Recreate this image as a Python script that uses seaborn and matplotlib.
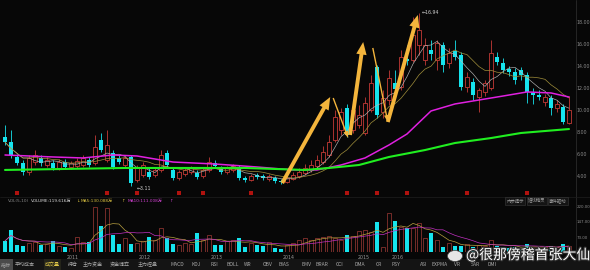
import numpy as np
import pandas as pd
import matplotlib
matplotlib.use("Agg")
import matplotlib.pyplot as plt
import seaborn as sns
from matplotlib import patheffects as pe
from matplotlib.patches import Rectangle, Ellipse
from matplotlib.lines import Line2D
from matplotlib.transforms import blended_transform_factory

# ---------------- data ----------------
opens = [7.55, 7.09, 5.73, 5.18, 4.36, 5.27, 5.64, 5.00, 5.18, 4.73,
         5.27, 4.82, 4.91, 5.00, 5.45, 5.18, 7.27, 5.45, 6.09, 5.64,
         5.00, 5.73, 3.64, 4.09, 4.36, 4.09, 4.55, 6.09, 4.55, 3.82,
         4.18, 4.36, 4.27, 4.00, 4.55, 5.18, 4.73, 4.36, 4.55, 4.73,
         3.82, 3.64, 4.09, 4.00, 3.73, 3.82, 3.55, 3.45, 3.73, 4.00,
         4.27, 4.55, 4.91, 5.27, 5.91, 7.27, 8.18, 10.18, 8.18, 8.64,
         7.91, 10.00, 13.91, 9.82, 10.91, 12.45, 12.09, 14.64, 14.55, 15.91,
         14.55, 15.45, 14.55, 15.91, 14.27, 15.36, 15.00, 12.09, 12.55, 11.18,
         11.64, 12.00, 14.82, 14.27, 13.73, 13.45, 13.64, 13.18, 11.55, 11.36,
         10.73, 11.09, 10.18, 10.27, 8.82]
closes = [7.09, 5.91, 5.18, 4.36, 5.64, 5.91, 5.18, 5.45, 4.73, 5.27,
          4.82, 5.18, 5.36, 5.64, 5.00, 6.64, 6.36, 6.82, 4.82, 5.27,
          5.64, 3.36, 4.73, 5.00, 3.91, 4.55, 5.91, 5.00, 3.82, 4.36,
          4.55, 4.73, 3.91, 4.55, 5.27, 4.91, 4.36, 4.73, 4.91, 3.82,
          3.64, 4.00, 3.91, 3.82, 4.00, 3.55, 3.45, 3.82, 4.09, 4.36,
          4.73, 5.00, 5.45, 6.18, 7.09, 9.36, 9.82, 7.73, 10.00, 9.55,
          10.64, 12.45, 9.55, 11.09, 12.91, 11.91, 14.82, 14.45, 16.82, 17.27,
          15.91, 15.09, 16.09, 14.09, 15.18, 14.82, 12.09, 13.00, 11.36, 11.82,
          12.45, 15.18, 14.36, 13.64, 13.45, 12.73, 13.18, 11.64, 11.36, 11.18,
          11.18, 10.18, 10.55, 8.91, 10.00]
highs = [8.64, 8.18, 6.00, 5.45, 5.91, 6.36, 5.91, 5.73, 5.45, 5.55,
         5.55, 5.36, 5.64, 5.91, 5.73, 7.73, 7.91, 8.18, 6.36, 5.91,
         5.82, 5.91, 5.00, 5.27, 4.73, 4.73, 6.36, 6.36, 4.73, 4.55,
         4.73, 4.91, 4.55, 4.82, 5.73, 5.45, 4.91, 4.91, 5.09, 5.00,
         4.00, 4.18, 4.27, 4.18, 4.18, 4.00, 3.73, 4.00, 4.36, 4.73,
         5.09, 5.45, 5.91, 6.73, 7.73, 10.00, 10.18, 10.55, 10.91, 10.45,
         11.18, 13.18, 14.09, 11.82, 13.64, 13.64, 15.45, 15.91, 18.45, 18.82,
         16.55, 16.36, 16.36, 16.18, 15.64, 16.36, 15.27, 13.45, 12.91, 12.00,
         12.73, 16.36, 15.27, 14.73, 14.00, 13.82, 13.91, 13.45, 12.00, 11.82,
         11.45, 11.36, 10.91, 10.55, 11.27]
lows = [6.82, 5.64, 5.00, 4.09, 4.09, 5.00, 4.91, 4.82, 4.55, 4.55,
        4.64, 4.64, 4.73, 4.82, 4.82, 5.00, 6.18, 5.27, 4.64, 5.09,
        4.82, 3.09, 3.45, 3.91, 3.73, 3.91, 4.36, 4.82, 3.64, 3.64,
        4.00, 4.18, 3.73, 3.82, 4.36, 4.73, 4.18, 4.18, 4.36, 3.64,
        3.45, 3.55, 3.73, 3.64, 3.55, 3.36, 3.27, 3.36, 3.64, 3.82,
        4.09, 4.36, 4.73, 5.09, 5.73, 7.09, 7.73, 7.55, 7.91, 8.36,
        7.73, 9.82, 9.27, 9.27, 10.45, 11.64, 11.82, 14.09, 14.36, 15.00,
        14.09, 14.55, 13.64, 13.45, 13.82, 14.55, 11.82, 11.64, 10.91, 9.82,
        11.27, 11.82, 14.09, 13.36, 13.09, 12.36, 12.73, 10.64, 10.55, 10.91,
        10.36, 9.55, 9.82, 8.73, 8.73]
volumes = [54, 108, 34, 29, 44, 49, 34, 39, 54, 29,
           24, 20, 73, 49, 49, 220, 127, 215, 83, 39,
           68, 39, 44, 54, 73, 59, 117, 68, 39, 34,
           44, 39, 93, 59, 83, 34, 34, 54, 59, 68,
           24, 44, 34, 29, 49, 20, 15, 34, 44, 59,
           68, 59, 68, 73, 78, 68, 59, 83, 78, 103,
           108, 98, 147, 24, 191, 152, 122, 117, 117, 142,
           68, 93, 59, 24, 44, 29, 29, 39, 24, 34,
           29, 59, 29, 24, 20, 24, 20, 39, 20, 20,
           24, 29, 24, 39, 29]

# mid-term (magenta) and long-term (green) moving averages, sampled
ma_mid_idx = [0, 8, 13, 18, 22, 28, 35, 42, 48, 52, 56, 60, 64, 67, 71, 75, 79, 83, 87, 91, 94]
ma_mid_val = [5.91, 5.73, 5.64, 5.91, 5.82, 5.27, 5.09, 4.82, 4.55, 4.55, 5.00, 5.64, 6.82, 7.82,
              9.91, 10.55, 10.91, 11.27, 11.64, 11.55, 11.18]
ma_long_idx = [0, 20, 40, 50, 54, 59, 64, 70, 75, 81, 86, 94]
ma_long_val = [4.55, 4.73, 4.73, 4.55, 4.73, 5.00, 5.73, 6.36, 7.00, 7.45, 7.91, 8.27]

event_idx = [2, 17, 22, 29, 33, 41, 57, 62, 67, 77, 87]
year_labels = ["2011", "2012", "2013", "2014", "2015", "2016"]
year_pos = [11.25, 23.2, 35.2, 47.3, 59.7, 65.5]
price_ticks = [18, 16, 14, 12, 10, 8, 6, 4]
vol_ticks = [220, 147, 73]
peak_label = "←16.94"
low_label = "←3.11"

# trend arrows (tail -> head) in (bar index, price)
arrow_tails = [(46.2, 3.36), (54.7, 11.09), (57.5, 7.73), (61.3, 15.64), (63.8, 8.91)]
arrow_heads = [(54.2, 11.18), (57.2, 7.45), (59.7, 16.18), (63.8, 8.91), (68.8, 18.64)]
arrow_thick = [True, False, True, False, True]

tab_labels = ["指标", "平均成本", "成交量", "持仓", "主力资金", "资金博弈", "主力控盘", "MACD",
              "KDJ", "RSI", "BOLL", "WR", "OBV", "BIAS", "EMV", "BRAR", "CCI", "DMA",
              "CR", "PSY", "ASI", "EXPMA", "VR", "SAR", "DMI"]
tab_x = [6, 25, 52, 73, 93, 120, 148, 177, 196, 214, 233, 248, 268, 284, 306, 322, 340,
         360, 379, 396, 424, 440, 457, 475, 492]

header_texts = ["VOL(5,10)", "VOLUME:119.616万", "↓", "MA5:130.088万", "↑", "MA10:111.008万", "↑"]
header_x = [8, 31, 76, 81, 121, 128, 169]
header_colors = ["#8a8a8a", "#d8d8d8", "#d8c040", "#d8c040", "#d8c040", "#d040d0", "#d040d0"]
buttons = ["内参提示", "短线精灵", "事件驱动"]
button_x = [515, 537, 558]
watermark = "@很那傍稽首张大仙"

# ---------------- style ----------------
W, H = 590, 270
BG = "#070707"
RED = "#c43a36"
RED_V = "#a03a36"
CYAN = "#16e4ee"
sns.set_theme(style="dark", rc={"axes.facecolor": BG, "figure.facecolor": BG,
                                 "axes.edgecolor": BG, "axes.grid": False})
plt.rcParams["font.family"] = ["DejaVu Sans", "Noto Sans CJK SC"]
NARROW = ["Liberation Sans Narrow", "DejaVu Sans"]

fig = plt.figure(figsize=(W / 100, H / 100), dpi=100)
fig.patch.set_facecolor(BG)


def px_axes(x0, y0, x1, y1):
    return fig.add_axes([x0 / W, 1 - y1 / H, (x1 - x0) / W, (y1 - y0) / H])


def ftext(x, y, s, **kw):
    return fig.text(x / W, 1 - y / H, s, **kw)


ax = px_axes(0, 0, 575, 195)
axv = px_axes(0, 200, 575, 252)

df = pd.DataFrame(dict(open=opens, close=closes, high=highs, low=lows, vol=volumes))
df["idx"] = np.arange(len(df))
up = (df.close >= df.open).values
idx = df.idx.values
body_lo = np.minimum(df.open, df.close).values
body_h = np.maximum(np.abs(df.close - df.open).values, 0.07)

# candles
ax.vlines(idx[up], df.low[up], df.high[up], color=RED, lw=0.6, zorder=2)
ax.vlines(idx[~up], df.low[~up], df.high[~up], color=CYAN, lw=0.6, zorder=2)
ax.bar(idx[up], body_h[up], bottom=body_lo[up], width=0.72, facecolor=BG,
       edgecolor=RED, linewidth=0.6, zorder=3)
ax.bar(idx[~up], body_h[~up], bottom=body_lo[~up], width=0.72, color=CYAN,
       linewidth=0, zorder=3)

# moving averages
df["ma5"] = df.close.rolling(5, min_periods=1).mean()
df["ma10"] = df.close.rolling(10, min_periods=1).mean()
sns.lineplot(data=df, x="idx", y="ma5", ax=ax, color="#b8b8b8", lw=0.45, zorder=4)
sns.lineplot(data=df, x="idx", y="ma10", ax=ax, color="#a08e3a", lw=0.5, zorder=4)
sns.lineplot(x=ma_mid_idx, y=ma_mid_val, ax=ax, color="#e020e0", lw=1.1, zorder=5)
sns.lineplot(x=ma_long_idx, y=ma_long_val, ax=ax, color="#20ee20", lw=1.5, zorder=5)

# arrows
for t, h, thick in zip(arrow_tails, arrow_heads, arrow_thick):
    style = ("simple,head_length=0.9,head_width=0.75,tail_width=0.28" if thick
             else "simple,head_length=0.5,head_width=0.35,tail_width=0.1")
    ax.annotate("", xy=h, xytext=t, zorder=7,
                arrowprops=dict(arrowstyle=style, color="#f4b53c", lw=0,
                                shrinkA=0, shrinkB=0, mutation_scale=10))

# peak / low labels
ipk = int(np.argmax(df.high.values))
ilo = int(np.argmin(df.low.values))
ax.text(ipk + 0.5, df.high[ipk], peak_label, fontsize=3.4, color="#cfcfcf",
        ha="left", va="center", zorder=8)
ax.text(ilo + 0.9, df.low[ilo], low_label, fontsize=3.4, color="#cfcfcf",
        ha="left", va="top", zorder=8)

# event markers
trans = blended_transform_factory(ax.transData, ax.transAxes)
ax.scatter(event_idx, [0.012] * len(event_idx), transform=trans, marker="s", s=5,
           color="#b0120e", zorder=6, clip_on=False, linewidths=0)

# volume
axv.bar(idx[up], df.vol[up], width=0.72, facecolor=BG, edgecolor=RED_V, linewidth=0.5)
axv.bar(idx[~up], df.vol[~up], width=0.72, color=CYAN, linewidth=0)
df["vma5"] = df.vol.rolling(5, min_periods=1).mean()
df["vma10"] = df.vol.rolling(10, min_periods=1).mean()
sns.lineplot(data=df, x="idx", y="vma5", ax=axv, color="#b8a040", lw=0.5, zorder=4)
sns.lineplot(data=df, x="idx", y="vma10", ax=axv, color="#c030c0", lw=0.5, zorder=4)

for a in (ax, axv):
    a.set_xlim(-0.833, 95)
    a.set_xticks([])
    a.set_xlabel("")
    a.set_ylabel("")
    a.yaxis.tick_right()
    a.tick_params(axis="y", length=0, pad=1.2, labelcolor="#8a8a8a")
    for s in a.spines.values():
        s.set_visible(False)
    a.set_facecolor(BG)
    a.grid(False)

ax.set_ylim(20 - 195 / 11, 20)
ax.set_yticks(price_ticks)
ax.set_yticklabels([f"{t:.2f}" for t in price_ticks], fontsize=3.4, family=NARROW)
axv.set_ylim(0, 52 * 220 / 45)
axv.set_yticks(vol_ticks)
axv.set_yticklabels([f"{t:.2f}" for t in vol_ticks], fontsize=2.9, family=NARROW)

# year labels under the volume panel
tv = blended_transform_factory(axv.transData, axv.transAxes)
for lab, pos in zip(year_labels, year_pos):
    axv.text(pos, -0.1, lab, transform=tv, fontsize=3.4, color="#9a9a9a",
             ha="center", va="center", clip_on=False)

# separators
fig.add_artist(Line2D([576 / W, 576 / W], [1 - 258 / H, 1], color="#2a2a2a", lw=0.6))
fig.add_artist(Line2D([0, 1], [1 - 197 / H, 1 - 197 / H], color="#1e1e1e", lw=0.5))

# volume header
for s, x, c in zip(header_texts, header_x, header_colors):
    ftext(x, 201, s, fontsize=3.1, color=c, ha="left", va="center")
for s, x in zip(buttons, button_x):
    ftext(x, 201, s, fontsize=3.2, color="#9a9a9a", ha="center", va="center",
          family=["Noto Sans CJK SC", "DejaVu Sans"],
          bbox=dict(boxstyle="square,pad=0.35", fc="#141414", ec="#3a3a3a", lw=0.4))

# tab bar
fig.add_artist(Rectangle((0, 0), 1, 11 / H, transform=fig.transFigure,
                         fc="#141414", ec="none", zorder=0))
fig.add_artist(Rectangle((0, 0), 13 / W, 11 / H, transform=fig.transFigure,
                         fc="#4a4a4a", ec="none", zorder=0))
fig.add_artist(Rectangle((44 / W, 0), 17 / W, 11 / H, transform=fig.transFigure,
                         fc="#24241a", ec="none", zorder=0))
for s, x in zip(tab_labels, tab_x):
    col = "#e0c848" if s == "成交量" else "#a8a8a8"
    ftext(x, 264.5, s, fontsize=3.6, color=col, ha="center", va="center",
          family=["Noto Sans CJK SC", "DejaVu Sans"])

# watermark
fig.add_artist(Ellipse((455 / W, 1 - 256 / H), 15 / W, 11 / H, transform=fig.transFigure,
                       fc="#e6e6e6", ec="#444444", lw=0.5, zorder=9))
ftext(466, 255, watermark, fontsize=10, color="white", ha="left", va="center",
      family=["Noto Sans CJK SC", "DejaVu Sans"], zorder=10,
      path_effects=[pe.withStroke(linewidth=1.6, foreground="#303030")])

fig.savefig("out.png", dpi=100, facecolor=fig.get_facecolor())
